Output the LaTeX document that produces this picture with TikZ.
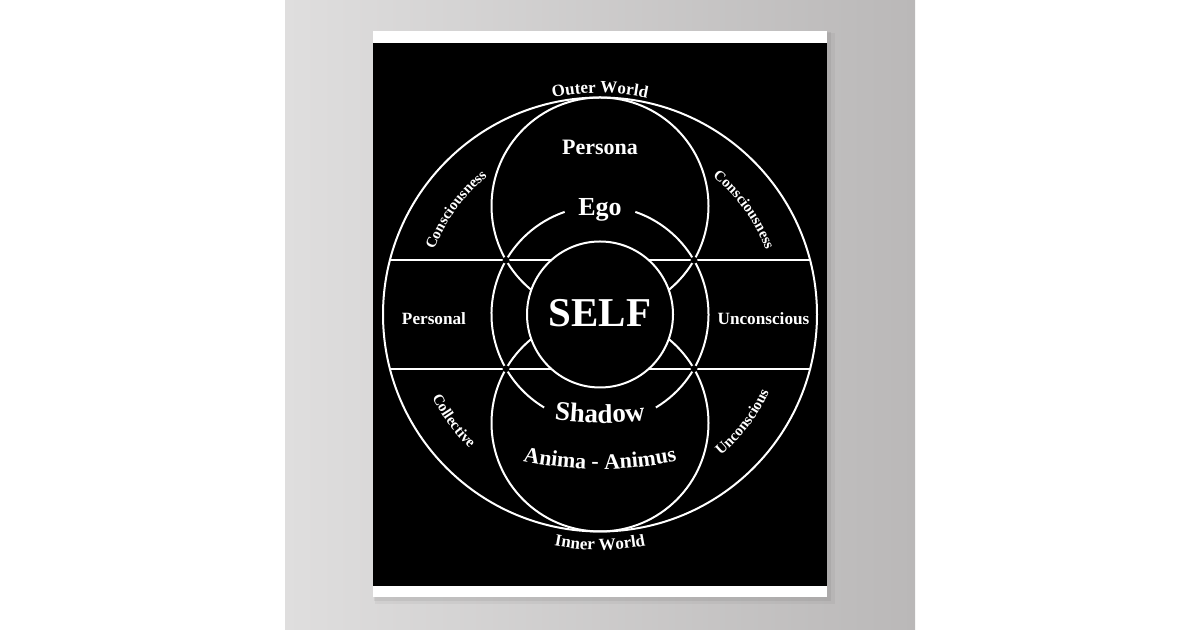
\documentclass[tikz,border=0pt]{standalone}
\usepackage{fontspec}
\setmainfont{Liberation Serif}
\usetikzlibrary{decorations.text}

\definecolor{wallL}{RGB}{223,222,222}
\definecolor{wallM}{RGB}{216,215,215}
\definecolor{wallR}{RGB}{186,184,184}

\begin{document}
\begin{tikzpicture}[x=0.5pt,y=0.5pt,
  ring/.style={draw=white,line width=1pt},
  lbl/.style={text=white,inner sep=0pt,anchor=base,font=\bfseries\fontsize{#1}{#1}\selectfont},
  arctext/.style 2 args={decorate,decoration={text along path,text align=center,
    text color=white,text={|\bfseries\fontsize{#1}{#1}\selectfont|#2}}}]
  \fill[white] (0,0) rectangle (1200,630);
  \shade[left color=wallL,middle color=wallM,right color=wallR] (285,0) rectangle (915,630);

  \fill[black,opacity=0.04] (375,26) rectangle (835,597);
  \fill[black,opacity=0.06] (374,29) rectangle (831,598);
  \fill[white] (373,33) rectangle (827,599);
  \fill[black] (373,44) rectangle (827,587);

  \coordinate (C) at (600,315.5);
  \coordinate (up) at (600,424);
  \coordinate (lo) at (600,207);
  \coordinate (S) at (600,542);

  \draw[ring] (C) circle[radius=217];
  \draw[ring] (up) circle[radius=108.5];
  \draw[ring] (lo) circle[radius=108.5];
  \draw[ring] (389.9,369.75) -- (810.1,369.75);
  \draw[ring] (389.9,261.25) -- (810.1,261.25);

  \draw[ring] ([shift={(109:108.5)}]C) arc[start angle=109,end angle=239,radius=108.5];
  \draw[ring] ([shift={(-59:108.5)}]C) arc[start angle=-59,end angle=71,radius=108.5];

  \draw[ring,fill=black] (C) circle[radius=73];
  \foreach \dx in {-94,94}
    \foreach \dy in {-54.25,54.25}
      \fill[black] ([shift={(\dx,\dy)}]C) circle[radius=3.5];

  \node[lbl=20.5] (self) at (600,303) {SELF};
  \node[lbl=11] (persona) at (600,475) {Persona};
  \node[lbl=13] (ego) at (600,414) {Ego};
  \node[lbl=8.6] (personal) at (434,305) {Personal};
  \node[lbl=8.6] (uncons) at (763.5,305) {Unconscious};

  \path[arctext={8.5}{Outer World}] ([shift={(110:221.5)}]C) arc[start angle=110,end angle=70,radius=221.5];
  \path[arctext={8.5}{Inner World}] ([shift={(250:235.5)}]C) arc[start angle=250,end angle=290,radius=235.5];
  \path[arctext={7.5}{Consciousness}] ([shift={(164:178)}]C) arc[start angle=164,end angle=124,radius=178];
  \path[arctext={7.5}{Consciousness}] ([shift={(56:178)}]C) arc[start angle=56,end angle=16,radius=178];
  \path[arctext={7.6}{Collective}] ([shift={(196:187)}]C) arc[start angle=196,end angle=236,radius=187];
  \path[arctext={7.6}{Unconscious}] ([shift={(303:186)}]C) arc[start angle=303,end angle=343,radius=186];
  \path[arctext={13.5}{Shadow}] ([shift={(252:335)}]S) arc[start angle=252,end angle=288,radius=335];
  \path[arctext={11}{Anima - Animus}] ([shift={(250:381)}]S) arc[start angle=250,end angle=290,radius=381];
\end{tikzpicture}
\end{document}
